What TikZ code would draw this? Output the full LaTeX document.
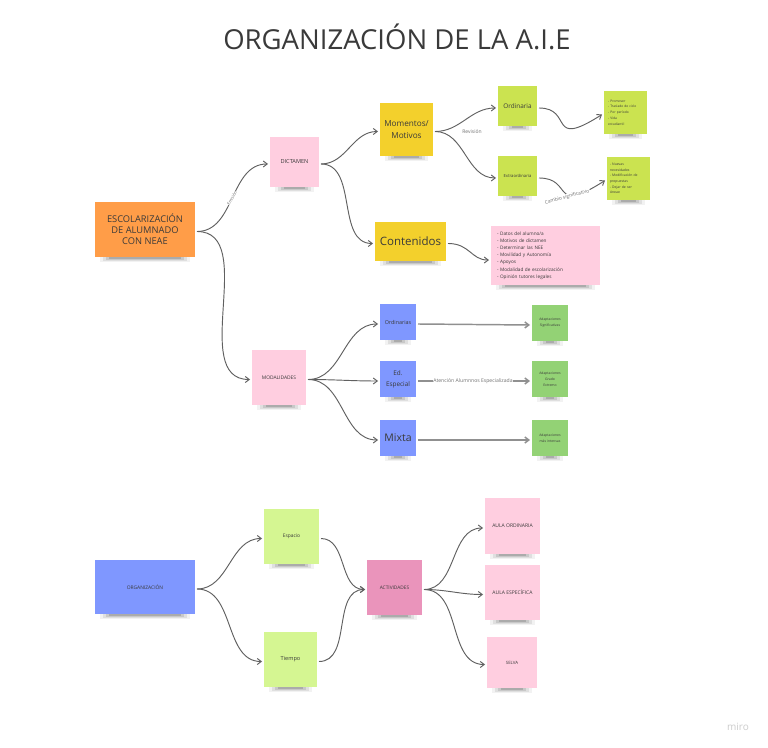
\documentclass[tikz,border=0pt]{standalone}
\usepackage{fontspec}
\setmainfont{Open Sans}
\usetikzlibrary{arrows.meta}
\definecolor{cOrange}{HTML}{FF9D48}
\definecolor{cPink}{HTML}{FFCEE0}
\definecolor{cYellow}{HTML}{F3D02C}
\definecolor{cLime}{HTML}{CBE350}
\definecolor{cBlue}{HTML}{7F97FF}
\definecolor{cPale}{HTML}{D5F692}
\definecolor{cGreen}{HTML}{93D275}
\definecolor{cRose}{HTML}{EA94BB}
\definecolor{cInk}{HTML}{3A3A3A}
\definecolor{cLine}{HTML}{606060}
\definecolor{cLabel}{HTML}{707070}
\tikzset{
  sticky/.style={inner sep=0pt,outer sep=0pt,align=center,text=cInk},
  conn/.style={draw=cLine,line width=0.7pt,-{Straight Barb[length=3pt,width=4.5pt]}},
  flat/.style={draw=cLine!70,line width=1.1pt,-{Straight Barb[length=3pt,width=4.5pt]}},
  edgelabel/.style={inner sep=0.6pt,fill=white,text=cLabel},
  listnode/.style 2 args={align=left,text width=#1,inner xsep=#2}
}
% name, left, top, right, bottom, options, font px, leading px, text
\newcommand{\sticky}[9]{%
  \fill[black,opacity=.05] (#2+5,#5) rectangle (#4-5,#5+5);
  \fill[black,opacity=.08] (#2+8,#5) rectangle (#4-8,#5+4);
  \fill[black,opacity=.10] (#2+11,#5) rectangle (#4-11,#5+3);
  \fill[black,opacity=.14] (#2+14,#5) rectangle (#4-14,#5+1.8);
  \pgfmathsetmacro{\fsz}{#7*.75}\pgfmathsetmacro{\ldg}{#8*.75}
  \node[sticky,minimum width={(#4-#2)*.75pt},minimum height={(#5-#3)*.75pt},
        font=\fontsize{\fsz}{\ldg}\selectfont,#6]
     (#1) at ({(#2+#4)/2},{(#3+#5)/2}) {#9};
}
\newcommand{\link}[3][]{%
  \draw[conn,#1] ([xshift=1.5pt,yshift=-1.5pt]#2.east) to[out=0,in=180] ([xshift=-1.5pt,yshift=-1.5pt]#3.west);
}
\newcommand{\fpx}[1]{\pgfmathsetmacro{\fsz}{#1*.75}\fontsize{\fsz}{\fsz}\selectfont}
\begin{document}
\begin{tikzpicture}[x=.75pt,y=-.75pt]
\useasboundingbox (0,0) rectangle (768,748);
\fill[white] (0,0) rectangle (768,748);

\node[text=cInk,inner sep=0pt] (title) at (397,37) {\fpx{27.5}ORGANIZACIÓN DE LA A.I.E};

\sticky{esc}{95}{202}{195}{257}{fill=cOrange}{9.3}{11}{ESCOLARIZACIÓN\\DE ALUMNADO\\CON NEAE}
\sticky{dic}{270}{137}{319}{187}{fill=cPink}{5.6}{7}{DICTAMEN}
\sticky{mod}{252}{350}{306}{405}{fill=cPink}{4.9}{6}{MODALIDADES}
\sticky{mom}{380}{103}{433}{156}{fill=cYellow}{8.2}{11.5}{Momentos/\\Motivos}
\sticky{con}{375}{222}{446}{261}{fill=cYellow}{11.5}{13}{Contenidos}
\sticky{ord}{498}{86}{537}{126}{fill=cLime}{6.4}{8}{Ordinaria}
\sticky{ext}{498}{156}{537}{196}{fill=cLime}{4.2}{5}{Extraordinaria}
\sticky{la}{604}{91}{647}{134}{fill=cLime,listnode={26pt}{3pt}}{3.3}{5.7}{- Promover\\- Traslado de ciclo\\- Por período\\- Vida\\estudiantil}
\sticky{lb}{607}{157}{650}{200}{fill=cLime,listnode={27.75pt}{2.25pt}}{3.4}{5.7}{- Nuevas\\necesidades\\- Modificación de\\propuestas\\- Dejar de ser\\Aneae}
\sticky{lc}{491}{226}{600}{285}{fill=cPink,listnode={72.75pt}{4.5pt}}{4.7}{7.2}{- Datos del alumno/a\\- Motivos de dictamen\\- Determinar las NEE\\- Movilidad y Autonomía\\- Apoyos\\- Modalidad de escolarización\\- Opinión tutores legales}
\sticky{bo}{380}{304}{416}{340}{fill=cBlue}{5.4}{7}{Ordinarias}
\sticky{be}{380}{361}{416}{397}{fill=cBlue}{6.4}{11}{Ed.\\Especial}
\sticky{bm}{380}{420}{416}{456}{fill=cBlue}{10.5}{12}{Mixta}
\sticky{ga}{532}{305}{568}{341}{fill=cGreen}{3.4}{6}{Adaptaciones\\Significativas}
\sticky{gb}{532}{361}{568}{397}{fill=cGreen}{3.4}{6}{Adaptaciones\\Grado\\Extremo}
\sticky{gc}{532}{420}{568}{456}{fill=cGreen}{3.4}{6}{Adaptaciones\\más intensas}

\sticky{org}{95}{560}{195}{614}{fill=cBlue}{4.9}{6}{ORGANIZACIÓN}
\sticky{esp}{264}{509}{319}{564}{fill=cPale}{4.9}{6}{Espacio}
\sticky{tie}{264}{632}{317}{687}{fill=cPale}{5.6}{7}{Tiempo}
\sticky{act}{367}{560}{422}{615}{fill=cRose}{4.8}{6}{ACTIVIDADES}
\sticky{auo}{485}{498}{540}{554}{fill=cPink}{5}{6}{AULA ORDINARIA}
\sticky{aue}{485}{565}{540}{620}{fill=cPink}{5}{6}{AULA ESPECÍFICA}
\sticky{sel}{487}{637}{537}{688}{fill=cPink}{4.4}{6}{SELVA}

\link{esc}{dic}
\link{esc}{mod}
\link{dic}{mom}
\link{dic}{con}
\link{mom}{ord}
\link{mom}{ext}
\link{mod}{bo}
\link{mod}{be}
\link{mod}{bm}
\draw[conn] ([xshift=1.5pt,yshift=-1.5pt]ord.east) .. controls +(35,0) and +(-55,35) .. ([xshift=-1.5pt,yshift=-1.5pt]la.west);
\draw[conn] ([xshift=1.5pt,yshift=-1.5pt]ext.east) .. controls +(35,0) and +(-55,35) .. ([xshift=-1.5pt,yshift=-1.5pt]lb.west);
\draw[conn] ([xshift=1.5pt,yshift=-1.5pt]con.east) .. controls +(22,0) and +(-18,0) .. ([xshift=-1.5pt,yshift=-3.4pt]lc.west);
\draw[flat] ([xshift=1.5pt,yshift=-1.5pt]bo.east) -- ([xshift=-1.5pt,yshift=-1.5pt]ga.west);
\draw[flat] ([xshift=1.5pt,yshift=-1.5pt]be.east) -- ([xshift=-1.5pt,yshift=-1.5pt]gb.west);
\draw[flat] ([xshift=1.5pt,yshift=-1.5pt]bm.east) -- ([xshift=-1.5pt,yshift=-1.5pt]gc.west);
\link{org}{esp}
\link{org}{tie}
\link{esp}{act}
\link{tie}{act}
\link{act}{auo}
\link{act}{aue}
\link{act}{sel}

\node[edgelabel,rotate=58,text=cLine,inner sep=0.2pt] (lemi) at (232,198) {\fpx{4}Emisión};
\node[edgelabel,fill=none] (lrev) at (472,132) {\fpx{5}Revisión};
\node[edgelabel,rotate=15] (lcam) at (567,197) {\fpx{4.9}Cambio significativo};
\node[edgelabel] (late) at (473,381) {\fpx{5.1}Atención Alumnnos Especializada};

\node[text=black!20,inner sep=0pt] (miro) at (738,727) {\fpx{10}miro};
\end{tikzpicture}
\end{document}
